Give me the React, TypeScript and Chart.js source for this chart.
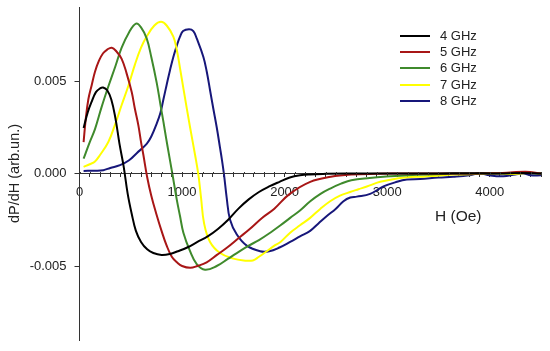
import React, { useEffect, useRef } from 'react';
import { Chart, registerables } from 'chart.js';

Chart.register(...registerables);

// ---- data (H in Oe, dP/dH in arb. units) ----
const SERIES_LABELS = ['4 GHz', '5 GHz', '6 GHz', '7 GHz', '8 GHz'];
const SERIES_COLORS = ['#000000', '#a81616', '#3f8a2c', '#ffff00', '#17177a'];

const H4 = [40, 80, 120, 160, 200, 230, 270, 310, 350, 390, 430, 470, 510, 550, 600, 660, 720, 800, 880, 960, 1050, 1150, 1250, 1350, 1450, 1550, 1650, 1750, 1850, 1950, 2050, 2150, 2250, 2400, 2600, 2900, 3200, 3500, 3800, 4100, 4300, 4500];
const V4 = [0.00246, 0.0033, 0.0039, 0.0044, 0.0046, 0.00465, 0.0045, 0.004, 0.003, 0.0016, 0.0004, -0.0011, -0.0022, -0.0031, -0.0037, -0.0041, -0.0043, -0.0044, -0.00435, -0.0042, -0.004, -0.0037, -0.0034, -0.003, -0.0025, -0.0019, -0.0014, -0.001, -0.0007, -0.00045, -0.00022, -0.0001, -0.00005, -0.00002, 0, 0, 0, 0, 0.00002, 0, 0.00003, 0];

const H5 = [40, 60, 86, 120, 151, 190, 230, 270, 314, 360, 411, 460, 509, 540, 574, 600, 623, 660, 700, 750, 800, 850, 900, 950, 1000, 1080, 1150, 1240, 1340, 1440, 1550, 1660, 1780, 1900, 2050, 2250, 2450, 2650, 2900, 3200, 3600, 4000, 4200, 4350, 4500];
const V5 = [0.0017, 0.0029, 0.004, 0.0048, 0.0055, 0.0061, 0.0065, 0.0067, 0.0068, 0.0066, 0.0062, 0.0054, 0.0044, 0.0035, 0.0026, 0.0017, 0.001, -0.0002, -0.0012, -0.0022, -0.0031, -0.0039, -0.0045, -0.0048, -0.005, -0.0051, -0.005, -0.0048, -0.0044, -0.004, -0.0035, -0.003, -0.0024, -0.0019, -0.0011, -0.00045, -0.00018, -0.00006, -0.00002, 0, 0, 0.00001, 0.00005, 0.0001, 0];

const H6 = [40, 100, 151, 216, 281, 350, 411, 480, 551, 600, 655, 700, 753, 790, 818, 845, 870, 905, 948, 980, 1013, 1078, 1143, 1224, 1338, 1450, 1534, 1650, 1750, 1860, 1960, 2054, 2150, 2250, 2350, 2450, 2550, 2650, 2830, 3030, 3200, 3400, 3700, 4000, 4300, 4500];
const V6 = [0.0008, 0.0017, 0.0024, 0.0036, 0.0047, 0.0058, 0.0068, 0.0076, 0.0081, 0.0079, 0.0073, 0.0063, 0.0049, 0.0037, 0.0028, 0.0019, 0.0011, 0, -0.0014, -0.0023, -0.0032, -0.0042, -0.0049, -0.0052, -0.005, -0.0046, -0.0043, -0.0039, -0.0036, -0.0032, -0.0028, -0.0024, -0.002, -0.0015, -0.0011, -0.0008, -0.00055, -0.00036, -0.00024, -0.00015, -0.00009, -0.00005, -0.00002, 0, 0.00004, 0];

const H7 = [40, 100, 151, 200, 281, 350, 411, 480, 541, 600, 655, 730, 795, 850, 915, 948, 980, 1013, 1078, 1127, 1160, 1185, 1215, 1273, 1371, 1500, 1600, 1690, 1750, 1826, 1900, 1960, 2054, 2150, 2249, 2350, 2444, 2540, 2639, 2720, 2802, 2932, 3095, 3200, 3350, 3485, 3650, 3810, 4000, 4200, 4400, 4500];
const V7 = [0.00036, 0.0005, 0.00065, 0.001, 0.0017, 0.0027, 0.0037, 0.0048, 0.0059, 0.0068, 0.0074, 0.008, 0.0082, 0.008, 0.0074, 0.0067, 0.0057, 0.0046, 0.0025, 0.001, -0.0001, -0.0013, -0.0027, -0.0037, -0.0043, -0.0046, -0.0047, -0.0047, -0.0045, -0.0042, -0.0039, -0.0037, -0.0032, -0.0028, -0.0024, -0.0019, -0.0015, -0.0012, -0.001, -0.00085, -0.0007, -0.00045, -0.00027, -0.0002, -0.00017, -0.00012, -0.00006, -0.00004, 0.00002, -0.00003, 0.00004, 0];

const H8 = [40, 150, 232, 300, 395, 480, 558, 655, 700, 753, 790, 818, 850, 883, 915, 948, 980, 1010, 1068, 1110, 1143, 1208, 1241, 1273, 1305, 1338, 1370, 1390, 1410, 1435, 1468, 1534, 1631, 1761, 1850, 1950, 2054, 2150, 2249, 2330, 2412, 2500, 2574, 2640, 2704, 2834, 2964, 3095, 3192, 3322, 3500, 3644, 3800, 3900, 4000, 4132, 4250, 4327, 4400, 4500];
const V8 = [0.00014, 0.00015, 0.00018, 0.0003, 0.00045, 0.0007, 0.0011, 0.0016, 0.002, 0.0027, 0.0033, 0.004, 0.0048, 0.0056, 0.0063, 0.0069, 0.0074, 0.0077, 0.0078, 0.0077, 0.0073, 0.0063, 0.0055, 0.0045, 0.0035, 0.0025, 0.0014, 0.0007, -0.0001, -0.0013, -0.0025, -0.0033, -0.0039, -0.0042, -0.0042, -0.004, -0.0037, -0.0034, -0.0031, -0.0027, -0.0023, -0.0019, -0.0015, -0.0013, -0.00125, -0.0011, -0.0007, -0.00045, -0.00033, -0.0003, -0.00022, -0.00018, -0.0001, 0.00002, -0.0001, -0.00015, -0.00005, 0, -0.0001, -0.0001];

const SERIES_H = [H4, H5, H6, H7, H8];
const SERIES_V = [V4, V5, V6, V7, V8];

const X_MIN = 0;
const X_MAX = 4500;
const X_STEP = 100;
const X_LABEL_STEP = 1000;
const Y_MIN = -0.009;
const Y_MAX = 0.009;
const Y_TICKS = [-0.005, 0, 0.005];
const X_TITLE = 'H (Oe)';
const X_TITLE_AT = 3693;
const Y_TITLE = 'dP/dH (arb.un.)';

const FONT = '"Liberation Sans", Arial, sans-serif';
const TEXT_COLOR = '#222222';
const AXIS_COLOR = '#333333';

const zeroScalePadding = (s: any) => {
  s.paddingTop = 0;
  s.paddingBottom = 0;
  s.paddingLeft = 0;
  s.paddingRight = 0;
};

const axisExtras = {
  id: 'axisExtras',
  afterDraw(chart: any) {
    const ctx = chart.ctx;
    const xs = chart.scales.x;
    const ys = chart.scales.y;
    const y0 = ys.getPixelForValue(0);
    ctx.save();
    ctx.strokeStyle = AXIS_COLOR;
    ctx.lineWidth = 1;
    xs.ticks.forEach((t: any) => {
      const px = Math.round(xs.getPixelForValue(t.value)) + 0.5;
      ctx.beginPath();
      ctx.moveTo(px, Math.round(y0) - 2);
      ctx.lineTo(px, Math.round(y0));
      ctx.stroke();
    });
    ctx.font = `15.5px ${FONT}`;
    ctx.fillStyle = TEXT_COLOR;
    ctx.textAlign = 'center';
    ctx.textBaseline = 'middle';
    ctx.fillText(X_TITLE, xs.getPixelForValue(X_TITLE_AT), y0 + 43);
    ctx.restore();
  },
};

export default function App() {
  const ref = useRef<HTMLCanvasElement | null>(null);

  useEffect(() => {
    if (!ref.current) return;
    const datasets = SERIES_LABELS.map((label, i) => ({
      label,
      data: SERIES_H[i].map((h, j) => ({ x: h, y: SERIES_V[i][j] })),
      borderColor: SERIES_COLORS[i],
      backgroundColor: SERIES_COLORS[i],
      borderWidth: 2,
      pointRadius: 0,
      fill: false,
      tension: 0.4,
    }));
    const chart = new Chart(ref.current, {
      type: 'line',
      data: { datasets },
      plugins: [axisExtras],
      options: {
        animation: false,
        responsive: false,
        devicePixelRatio: 1,
        layout: { padding: { left: 0, top: 7, right: 9, bottom: 11 } },
        plugins: { legend: { display: false }, tooltip: { enabled: false } },
        scales: {
          x: {
            type: 'linear',
            position: { y: 0 } as any,
            min: X_MIN,
            max: X_MAX,
            afterFit: zeroScalePadding,
            border: { display: true, color: AXIS_COLOR, width: 1 },
            grid: { drawOnChartArea: false, drawTicks: true, tickLength: 3, color: AXIS_COLOR },
            ticks: {
              stepSize: X_STEP,
              autoSkip: false,
              maxRotation: 0,
              minRotation: 0,
              padding: 8,
              color: TEXT_COLOR,
              font: { family: FONT, size: 13 },
              callback: (v: any) => (Number(v) % X_LABEL_STEP === 0 ? String(v) : ''),
            },
          },
          y: {
            type: 'linear',
            position: 'left',
            min: Y_MIN,
            max: Y_MAX,
            afterBuildTicks: (s: any) => {
              s.ticks = Y_TICKS.map((v) => ({ value: v }));
            },
            afterFit: (s: any) => {
              s.width = 79.5;
              zeroScalePadding(s);
            },
            border: { display: true, color: AXIS_COLOR, width: 1 },
            grid: { drawOnChartArea: false, drawTicks: true, tickLength: 5, color: AXIS_COLOR },
            ticks: {
              padding: 8,
              color: TEXT_COLOR,
              font: { family: FONT, size: 13 },
              callback: (v: any) => Number(v).toFixed(3),
            },
            title: {
              display: true,
              text: Y_TITLE,
              color: TEXT_COLOR,
              font: { family: FONT, size: 14.5 },
              padding: { top: 6, bottom: 0 },
            },
          },
        },
      },
    });
    return () => chart.destroy();
  }, []);

  return (
    <div style={{ position: 'absolute', left: 0, top: 0, width: 550, height: 351, background: '#fff' }}>
      <canvas ref={ref} width={550} height={351} style={{ display: 'block', width: 550, height: 351 }} />
      {SERIES_LABELS.map((label, i) => {
        const cy = 35.7 + i * 16.3;
        return (
          <React.Fragment key={label}>
            <div style={{ position: 'absolute', left: 400, top: cy - 1, width: 30, height: 2, background: SERIES_COLORS[i] }} />
            <div style={{ position: 'absolute', left: 440, top: cy - 8, height: 16, lineHeight: '16px', fontFamily: FONT, fontSize: 13, color: TEXT_COLOR, whiteSpace: 'nowrap' }}>
              {label}
            </div>
          </React.Fragment>
        );
      })}
    </div>
  );
}
